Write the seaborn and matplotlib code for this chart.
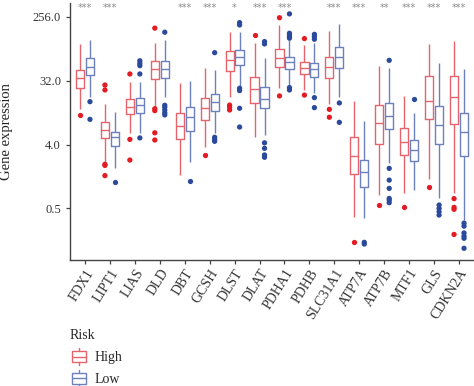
import numpy as np
import pandas as pd
import seaborn as sns
import matplotlib
matplotlib.use("Agg")
import matplotlib.pyplot as plt
from matplotlib.patches import Patch, Rectangle
from matplotlib.lines import Line2D
from matplotlib.legend_handler import HandlerBase
from matplotlib.ticker import FixedLocator, FuncFormatter, NullLocator

# genes on the x axis and significance marks
genes = ["FDX1", "LIPT1", "LIAS", "DLD", "DBT", "GCSH", "DLST", "DLAT",
         "PDHA1", "PDHB", "SLC31A1", "ATP7A", "ATP7B", "MTF1", "GLS", "CDKN2A"]
stars = ["***", "***", "", "", "***", "***", "*", "***",
         "***", "", "***", "***", "**", "***", "***", "***"]
risk_levels = ["High", "Low"]

# box summaries, log2 expression: [whisker low, Q1, median, Q3, whisker high]
high_box = [
    [3.65, 4.64, 5.11, 5.50, 6.72],
    [1.19, 2.29, 2.68, 3.06, 3.90],
    [2.53, 3.42, 3.77, 4.14, 4.95],
    [3.77, 5.09, 5.53, 5.92, 6.75],
    [0.57, 2.24, 2.87, 3.46, 4.87],
    [1.90, 3.15, 3.70, 4.17, 5.58],
    [4.24, 5.45, 5.97, 6.40, 7.30],
    [2.37, 3.96, 4.59, 5.18, 6.75],
    [4.64, 5.65, 6.08, 6.50, 7.61],
    [4.56, 5.30, 5.58, 5.86, 6.67],
    [3.90, 5.11, 5.62, 6.09, 7.34],
    [-1.39, 0.62, 1.46, 2.37, 4.04],
    [-0.37, 2.01, 3.00, 3.85, 5.69],
    [-0.29, 1.49, 2.13, 2.76, 4.28],
    [0.37, 3.20, 4.06, 5.22, 6.70],
    [-0.29, 2.95, 4.22, 5.22, 6.87],
]
low_box = [
    [4.24, 5.25, 5.62, 6.05, 6.91],
    [0.88, 1.93, 2.34, 2.59, 3.51],
    [2.53, 3.49, 3.85, 4.17, 4.95],
    [4.24, 5.14, 5.54, 5.93, 6.91],
    [1.19, 2.65, 3.29, 3.77, 4.98],
    [2.53, 3.56, 3.98, 4.38, 5.50],
    [4.69, 5.72, 6.11, 6.44, 7.30],
    [2.45, 3.70, 4.15, 4.71, 6.08],
    [4.71, 5.56, 5.87, 6.09, 6.91],
    [4.40, 5.18, 5.53, 5.84, 6.78],
    [4.24, 5.58, 6.09, 6.56, 7.64],
    [-1.46, 0.02, 0.72, 1.27, 3.12],
    [1.12, 2.74, 3.35, 3.93, 5.58],
    [-0.14, 1.24, 1.74, 2.20, 3.49],
    [-0.53, 2.02, 2.92, 3.81, 5.81],
    [-1.54, 1.46, 2.59, 3.49, 5.53],
]
# outlying points, log2 expression
high_out = [
    [3.37],
    [4.79, 4.56, 1.07, 1.02, 0.54],
    [5.31, 2.24, 1.27],
    [7.46, 3.68, 3.59, 2.55, 2.21],
    [],
    [1.49],
    [3.85, 3.75, 3.62],
    [7.15],
    [7.95, 4.28],
    [6.97, 4.32],
    [3.65, 3.28],
    [-2.58],
    [-0.84],
    [-0.92],
    [0.02],
    [-0.54, -0.95, -1.04, -2.22],
]
low_out = [
    [4.01, 3.18],
    [0.25],
    [5.93, 5.81, 5.70, 5.31, 2.31],
    [7.27, 3.84, 3.75, 3.62, 3.49, 3.39],
    [0.29],
    [6.31, 2.34, 2.24, 2.15],
    [7.72, 7.61, 4.64, 4.53, 3.70, 2.82],
    [6.83, 6.72, 2.08, 1.82, 1.51, 1.40],
    [8.13, 7.22, 7.14, 7.06, 6.99, 4.67, 4.56],
    [7.17, 7.06, 6.94, 4.20, 3.73],
    [3.95, 3.04],
    [-2.59, -2.67],
    [5.95, 0.88, 0.33, -0.06, -0.53, -0.61, -0.73],
    [4.14],
    [-0.84, -1.00, -1.15, -1.31],
    [-1.69, -1.83, -2.15, -2.30, -2.40, -2.87],
]

line_pal = {"High": "#E5646C", "Low": "#6C80BE"}
dot_pal = {"High": "#E31B23", "Low": "#2B4A9C"}

# long tables; each box sample is chosen so its quartiles equal the summary above
box_rows, out_rows = [], []
for risk, boxes, outs in [("High", high_box, high_out), ("Low", low_box, low_out)]:
    for g, (lo, q1, md, q3, hi), pts in zip(genes, boxes, outs):
        for v in [lo, q1, q1, md, q3, q3, hi]:
            box_rows.append((g, risk, 2.0 ** v))
        for v in pts:
            out_rows.append((g, risk, 2.0 ** v))
box_df = pd.DataFrame(box_rows, columns=["Gene", "Risk", "Expression"])
out_df = pd.DataFrame(out_rows, columns=["Gene", "Risk", "Expression"])

sns.set_theme(style="ticks")
plt.rcParams["font.family"] = ["Liberation Serif", "DejaVu Serif"]

fig = plt.figure(figsize=(4.74, 3.86), dpi=100)
ax = fig.add_axes([0.1477, 0.3264, 0.8523, 0.6658])

sns.boxplot(data=box_df, x="Gene", y="Expression", hue="Risk", order=genes,
            hue_order=risk_levels, palette=line_pal, fill=False, log_scale=2,
            whis=(0, 100), showfliers=False, showcaps=False, width=0.8, gap=0.18,
            linewidth=1.0, legend=False, ax=ax)
sns.stripplot(data=out_df, x="Gene", y="Expression", hue="Risk", order=genes,
              hue_order=risk_levels, palette=dot_pal, dodge=True, jitter=False,
              size=3.8, linewidth=0, log_scale=2, legend=False, ax=ax)

ax.set_xlim(-0.6, len(genes) - 0.4)
ax.set_ylim(2 ** -3.42, 2 ** 8.64)
ax.yaxis.set_major_locator(FixedLocator([0.5, 4, 32, 256]))
ax.yaxis.set_major_formatter(FuncFormatter(lambda v, p: f"{v:.1f}"))
ax.yaxis.set_minor_locator(NullLocator())

for i, s in enumerate(stars):
    if s:
        ax.text(i, 2 ** 8.40, s, ha="center", va="center", fontsize=7,
                color="#8C8C8C", family="DejaVu Sans")

ax.set_xlabel("")
ax.set_ylabel("Gene expression", fontsize=10.5, color="#222222", labelpad=14)
ax.tick_params(axis="both", length=3, width=0.9, color="#444444",
               labelsize=9, labelcolor="#333333")
ax.tick_params(axis="x", pad=2, labelsize=10)
plt.setp(ax.get_xticklabels(), rotation=58, ha="right", rotation_mode="anchor")
for side in ["top", "right"]:
    ax.spines[side].set_visible(False)
for side in ["left", "bottom"]:
    ax.spines[side].set_color("#444444")
    ax.spines[side].set_linewidth(1.0)


class BoxHandler(HandlerBase):
    def create_artists(self, legend, orig_handle, xdescent, ydescent,
                       width, height, fontsize, trans):
        c = orig_handle.get_edgecolor()
        cx = -xdescent + width / 2
        bw = width * 0.75
        bh = height * 0.9
        by = -ydescent + height * 0.05
        rect = Rectangle((cx - bw / 2, by), bw, bh, facecolor="white",
                         edgecolor=c, linewidth=1.0, transform=trans)
        med = Line2D([cx - bw / 2, cx + bw / 2], [by + bh / 2] * 2, color=c,
                     linewidth=1.0, transform=trans)
        up = Line2D([cx, cx], [by + bh, by + bh + height * 0.3], color=c,
                    linewidth=1.0, transform=trans)
        dn = Line2D([cx, cx], [by, by - height * 0.3], color=c,
                    linewidth=1.0, transform=trans)
        return [rect, med, up, dn]


handles = [Patch(facecolor="white", edgecolor=line_pal[r]) for r in risk_levels]
fig.legend(handles, risk_levels, title="Risk", loc="upper left",
           bbox_to_anchor=(0.13, 0.168), frameon=False, fontsize=10,
           title_fontsize=10, alignment="left", handlelength=1.3,
           handleheight=0.9, labelspacing=0.6, handletextpad=0.5,
           borderaxespad=0.2, handler_map={Patch: BoxHandler()})

fig.savefig("out.png", dpi=100)
